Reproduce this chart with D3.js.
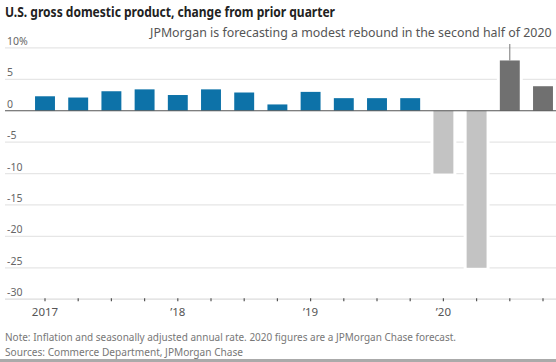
<!DOCTYPE html>
<html lang="en">
<head>
<meta charset="UTF-8">
<title>U.S. gross domestic product</title>
<script src="https://d3js.org/d3.v7.min.js"></script>
<style>
  body { margin: 0; background: #fff; }
  svg { display: block; font-family: "Noto Sans", "Open Sans", sans-serif; }
</style>
</head>
<body>
<svg width="556" height="362"></svg>
<script>
// quarters 2017 Q1 .. 2020 Q4
const quarters = ["2017Q1","2017Q2","2017Q3","2017Q4","2018Q1","2018Q2","2018Q3","2018Q4",
                  "2019Q1","2019Q2","2019Q3","2019Q4","2020Q1","2020Q2","2020Q3","2020Q4"];
const gdpChange = [2.3, 2.1, 3.1, 3.4, 2.5, 3.4, 2.9, 1.0, 3.0, 2.0, 2.0, 2.0, -10, -25, 8.0, 3.9];
const yTicks = [10, 5, 0, -5, -10, -15, -20, -25, -30];
const yearLabels = {"2017Q1": "2017", "2018Q1": "\u201918", "2019Q1": "\u201919", "2020Q1": "\u201920"};

const svg = d3.select("svg");
const width = 556;

const x = d3.scaleBand().domain(quarters).range([28.4, 559.6])
    .paddingInner(0.4).paddingOuter(0.2);
const y = d3.scaleLinear().domain([-30, 10]).range([299.2, 47.9]);

function barColor(q, v) {
  if (!q.startsWith("2020")) return "#0d72a8";
  return v < 0 ? "#c3c3c3" : "#707070";
}

// title + annotation
svg.append("text").attr("x", 5).attr("y", 17)
  .attr("font-size", 13.5).attr("font-weight", "bold").attr("fill", "#222")
  .attr("textLength", 330).attr("lengthAdjust", "spacingAndGlyphs")
  .text("U.S. gross domestic product, change from prior quarter");

// size the annotation so it ends just inside the right edge
const note = svg.append("text").attr("x", 150).attr("y", 37)
  .attr("font-size", 13).attr("fill", "#555")
  .text("JPMorgan is forecasting a modest rebound in the second half of 2020");
const natural = note.node().getComputedTextLength();
note.attr("font-size", 13 * 402 / natural);

// gridlines
const grid = svg.append("g");
grid.selectAll("line").data(yTicks.filter(d => d !== 0 && d !== -30)).join("line")
  .attr("x1", 5).attr("x2", width)
  .attr("y1", d => y(d)).attr("y2", d => y(d))
  .attr("stroke", "#e6e6e6").attr("stroke-width", 1.2);

// bottom axis line
svg.append("line").attr("x1", 5).attr("x2", width)
  .attr("y1", y(-30)).attr("y2", y(-30))
  .attr("stroke", "#dcdcdc").attr("stroke-width", 1.2);

svg.append("g").selectAll("line").data(quarters).join("line")
  .attr("x1", d => x(d) + x.bandwidth() / 2).attr("x2", d => x(d) + x.bandwidth() / 2)
  .attr("y1", y(-30) - 1).attr("y2", y(-30) + 2)
  .attr("stroke", "#555").attr("stroke-width", 1.2);

// y labels
svg.append("g").selectAll("text").data(yTicks).join("text")
  .attr("x", 7).attr("y", d => y(d) - 3)
  .attr("font-size", 10.5).attr("fill", "#666")
  .text(d => d === 10 ? "10%" : d);

// white halo so gridlines break around bars
const data = quarters.map((q, i) => ({ q, v: gdpChange[i] }));
svg.append("g").selectAll("rect").data(data).join("rect")
  .attr("x", d => x(d.q) - 3).attr("width", x.bandwidth() + 6)
  .attr("y", d => Math.min(y(d.v), y(0)) - 3)
  .attr("height", d => Math.abs(y(d.v) - y(0)) + 6)
  .attr("fill", "#fff");

// annotation leader
const q3 = "2020Q3";
svg.append("line")
  .attr("x1", x(q3) + x.bandwidth() / 2).attr("x2", x(q3) + x.bandwidth() / 2)
  .attr("y1", 44).attr("y2", y(8))
  .attr("stroke", "#777").attr("stroke-width", 1);

// bars
svg.append("g").selectAll("rect").data(data).join("rect")
  .attr("x", d => x(d.q)).attr("width", x.bandwidth())
  .attr("y", d => Math.min(y(d.v), y(0)))
  .attr("height", d => Math.abs(y(d.v) - y(0)))
  .attr("fill", d => barColor(d.q, d.v));

// zero line
svg.append("line").attr("x1", 5).attr("x2", width)
  .attr("y1", y(0)).attr("y2", y(0))
  .attr("stroke", "#555").attr("stroke-width", 1.2);

// x labels
svg.append("g").selectAll("text").data(quarters.filter(q => yearLabels[q])).join("text")
  .attr("x", d => x(d) + x.bandwidth() / 2).attr("y", 316)
  .attr("text-anchor", "middle").attr("font-size", 11.5).attr("fill", "#555")
  .text(d => yearLabels[d]);

// footer
svg.append("text").attr("x", 5).attr("y", 341)
  .attr("font-size", 11).attr("fill", "#777")
  .attr("textLength", 451).attr("lengthAdjust", "spacingAndGlyphs")
  .text("Note: Inflation and seasonally adjusted annual rate. 2020 figures are a JPMorgan Chase forecast.");
svg.append("text").attr("x", 5).attr("y", 356)
  .attr("font-size", 11).attr("fill", "#777")
  .attr("textLength", 238).attr("lengthAdjust", "spacingAndGlyphs")
  .text("Sources: Commerce Department, JPMorgan Chase");

// bottom shade
svg.append("rect").attr("x", 0).attr("y", 359).attr("width", width).attr("height", 3)
  .attr("fill", "#aaa");
</script>
</body>
</html>
